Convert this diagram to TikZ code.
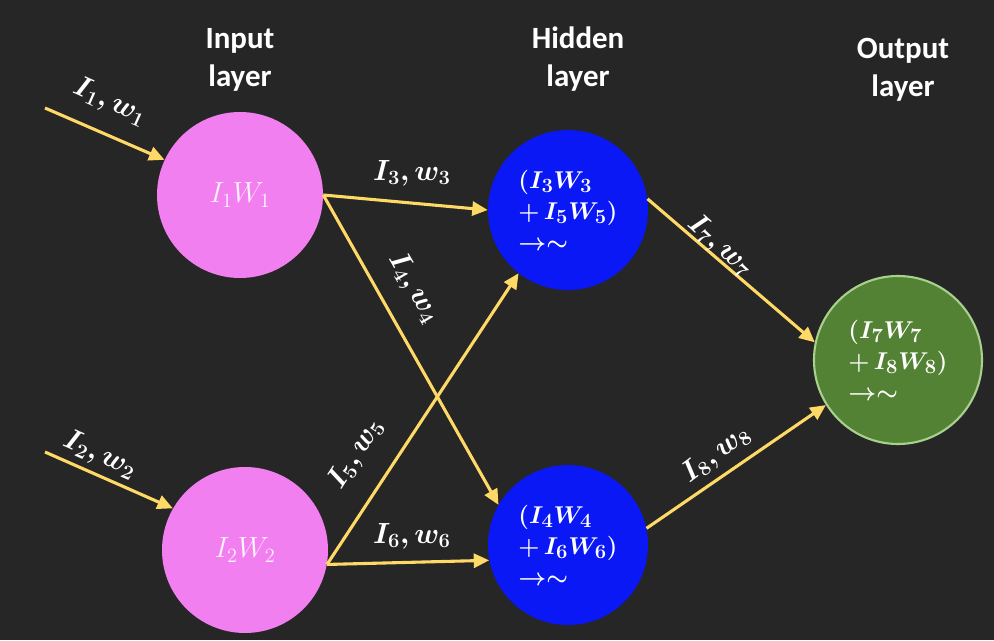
\documentclass[tikz,border=0pt]{standalone}
\usepackage{amsmath,bm}
\usepackage{fontspec}
\setsansfont{Carlito}
\usetikzlibrary{arrows.meta}
\definecolor{bg}{HTML}{262626}
\definecolor{pinkn}{HTML}{F27FF0}
\definecolor{bluen}{HTML}{0A18F5}
\definecolor{greenn}{HTML}{548235}
\definecolor{greenb}{HTML}{A9D18E}
\definecolor{arr}{HTML}{FFD966}
\begin{document}
\begin{tikzpicture}[x=0.025cm,y=0.025cm,
  hdr/.style={text=white,font=\sffamily\bfseries\fontsize{22}{27}\selectfont,align=center},
  pnode/.style={circle,fill=pinkn,minimum size=166*0.025cm,inner sep=0pt,text=white!90!pinkn,font=\fontsize{22}{26}\selectfont},
  bnode/.style={circle,fill=bluen,minimum size=160*0.025cm,inner sep=0pt,text=white,font=\fontsize{19}{22}\selectfont,align=left},
  gnode/.style={circle,fill=greenn,draw=greenb,line width=1.5pt,minimum size=168*0.025cm,inner sep=0pt,text=white,font=\fontsize{19}{22}\selectfont,align=left},
  ar/.style={draw=arr,line width=2.2pt,-{Triangle[length=11pt,width=10pt]}},
  lab/.style={text=white,font=\fontsize{22}{26}\selectfont,inner sep=1pt}]
\fill[bg] (0,0) rectangle (994,640);
\useasboundingbox (0,0) rectangle (994,640);
\node[hdr] (t1) at (240,580) {Input\\layer};
\node[hdr] (t2) at (578,581) {Hidden\\layer};
\node[hdr] (t3) at (903,570) {Output\\layer};
\node[pnode] (i1) at (240,445) {$I_1W_1$};
\node[pnode] (i2) at (245,90) {$I_2W_2$};
\node[bnode] (h1) at (568,430) {$\bm{(I_3W_3}$\\$\bm{+\,I_5W_5)}$\\$\bm{\rightarrow\sim}$};
\node[bnode] (h2) at (568,95) {$\bm{(I_4W_4}$\\$\bm{+\,I_6W_6)}$\\$\bm{\rightarrow\sim}$};
\node[gnode] (o) at (898,280) {$\bm{(I_7W_7}$\\$\bm{+\,I_8W_8)}$\\$\bm{\rightarrow\sim}$};
\coordinate (s1) at (45,532);
\coordinate (s2) at (45,188);
\draw[ar] (s1) -- (i1.155);
\draw[ar] (s2) -- (i2.150);
\draw[ar] (i1.east) -- (h1.180);
\draw[ar] (i1.east) -- (h2.150);
\draw[ar] (i2.-10) -- (h1.232);
\draw[ar] (i2.-10) -- (h2.191);
\draw[ar] (h1.8) -- (o.168);
\draw[ar] (h2.12) -- (o.212);
\node[lab,rotate=-24] (l1) at (110,538) {$\bm{I_1,w_1}$};
\node[lab,rotate=-24] (l2) at (100,185) {$\bm{I_2,w_2}$};
\node[lab] (l3) at (412,467) {$\bm{I_3,w_3}$};
\node[lab,rotate=-60] (l4) at (414,352) {$\bm{I_4,w_4}$};
\node[lab,rotate=57] (l5) at (356,186) {$\bm{I_5,w_5}$};
\node[lab] (l6) at (412,104) {$\bm{I_6,w_6}$};
\node[lab,rotate=-42] (l7) at (720,394) {$\bm{I_7,w_7}$};
\node[lab,rotate=37] (l8) at (716,186) {$\bm{I_8,w_8}$};
\end{tikzpicture}
\end{document}
